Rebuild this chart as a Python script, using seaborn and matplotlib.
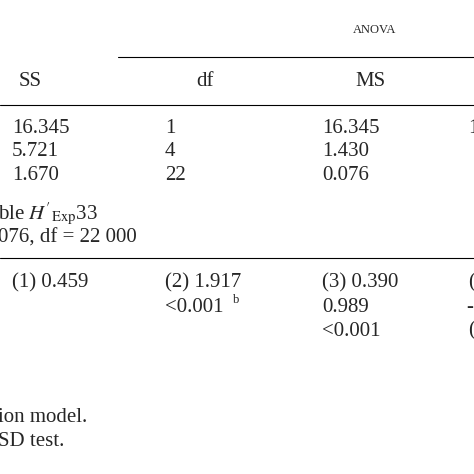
import matplotlib
matplotlib.use("Agg")
import matplotlib.pyplot as plt
import seaborn as sns

sns.set_theme(style="white")
plt.rcParams['font.family'] = ['Liberation Serif', 'DejaVu Serif']
plt.rcParams['mathtext.fontset'] = 'stix'

headers = ["SS", "df", "MS"]
header_x = [30, 205, 370]
col_x = [12, 165, 322]
ss = ["16.345", "5.721", "1.670"]
df = ["1", "4", "22"]
ms = ["16.345", "1.430", "0.076"]
row_y = [128, 152, 176]
post1 = ["(1) 0.459", "", ""]
post2 = ["(2) 1.917", "<0.001", ""]
post3 = ["(3) 0.390", "0.989", "<0.001"]
post_y = [283, 307, 331]

fig = plt.figure(figsize=(4.74, 4.74), dpi=100)
ax = fig.add_axes([0, 0, 1, 1])
ax.set_xlim(0, 474); ax.set_ylim(474, 0); ax.axis("off")
fs = 15

ax.text(375, 30, "ANOVA", fontsize=9, ha="center", va="center")
ax.plot([118, 474], [57, 57], color="black", lw=0.8)
for h, x in zip(headers, header_x):
    ax.text(x, 81, h, fontsize=fs, ha="center", va="center")
ax.plot([0, 474], [105, 105], color="black", lw=0.8)
for i, y in enumerate(row_y):
    ax.text(col_x[0], y, ss[i], fontsize=fs, va="center")
    ax.text(col_x[1], y, df[i], fontsize=fs, va="center")
    ax.text(col_x[2], y, ms[i], fontsize=fs, va="center")
ax.text(468, 128, "1", fontsize=fs, va="center")
ax.text(-2, 214, "ble $H'_{\\mathrm{Exp}}$33", fontsize=fs, va="center")
ax.text(-2, 238, "076, df = 22 000", fontsize=fs, va="center")
ax.plot([0, 474], [258, 258], color="black", lw=0.8)
for i, y in enumerate(post_y):
    ax.text(col_x[0], y, post1[i], fontsize=fs, va="center")
    ax.text(col_x[1], y, post2[i], fontsize=fs, va="center")
    ax.text(col_x[2], y, post3[i], fontsize=fs, va="center")
ax.text(233, 300, "b", fontsize=9, va="center")
ax.text(468, 283, "(", fontsize=fs, va="center")
ax.text(466, 307, "-", fontsize=fs, va="center")
ax.text(468, 331, "(", fontsize=fs, va="center")
ax.text(-2, 418, "ion model.", fontsize=fs, va="center")
ax.text(-2, 442, "SD test.", fontsize=fs, va="center")
fig.savefig("out.png", dpi=100)
